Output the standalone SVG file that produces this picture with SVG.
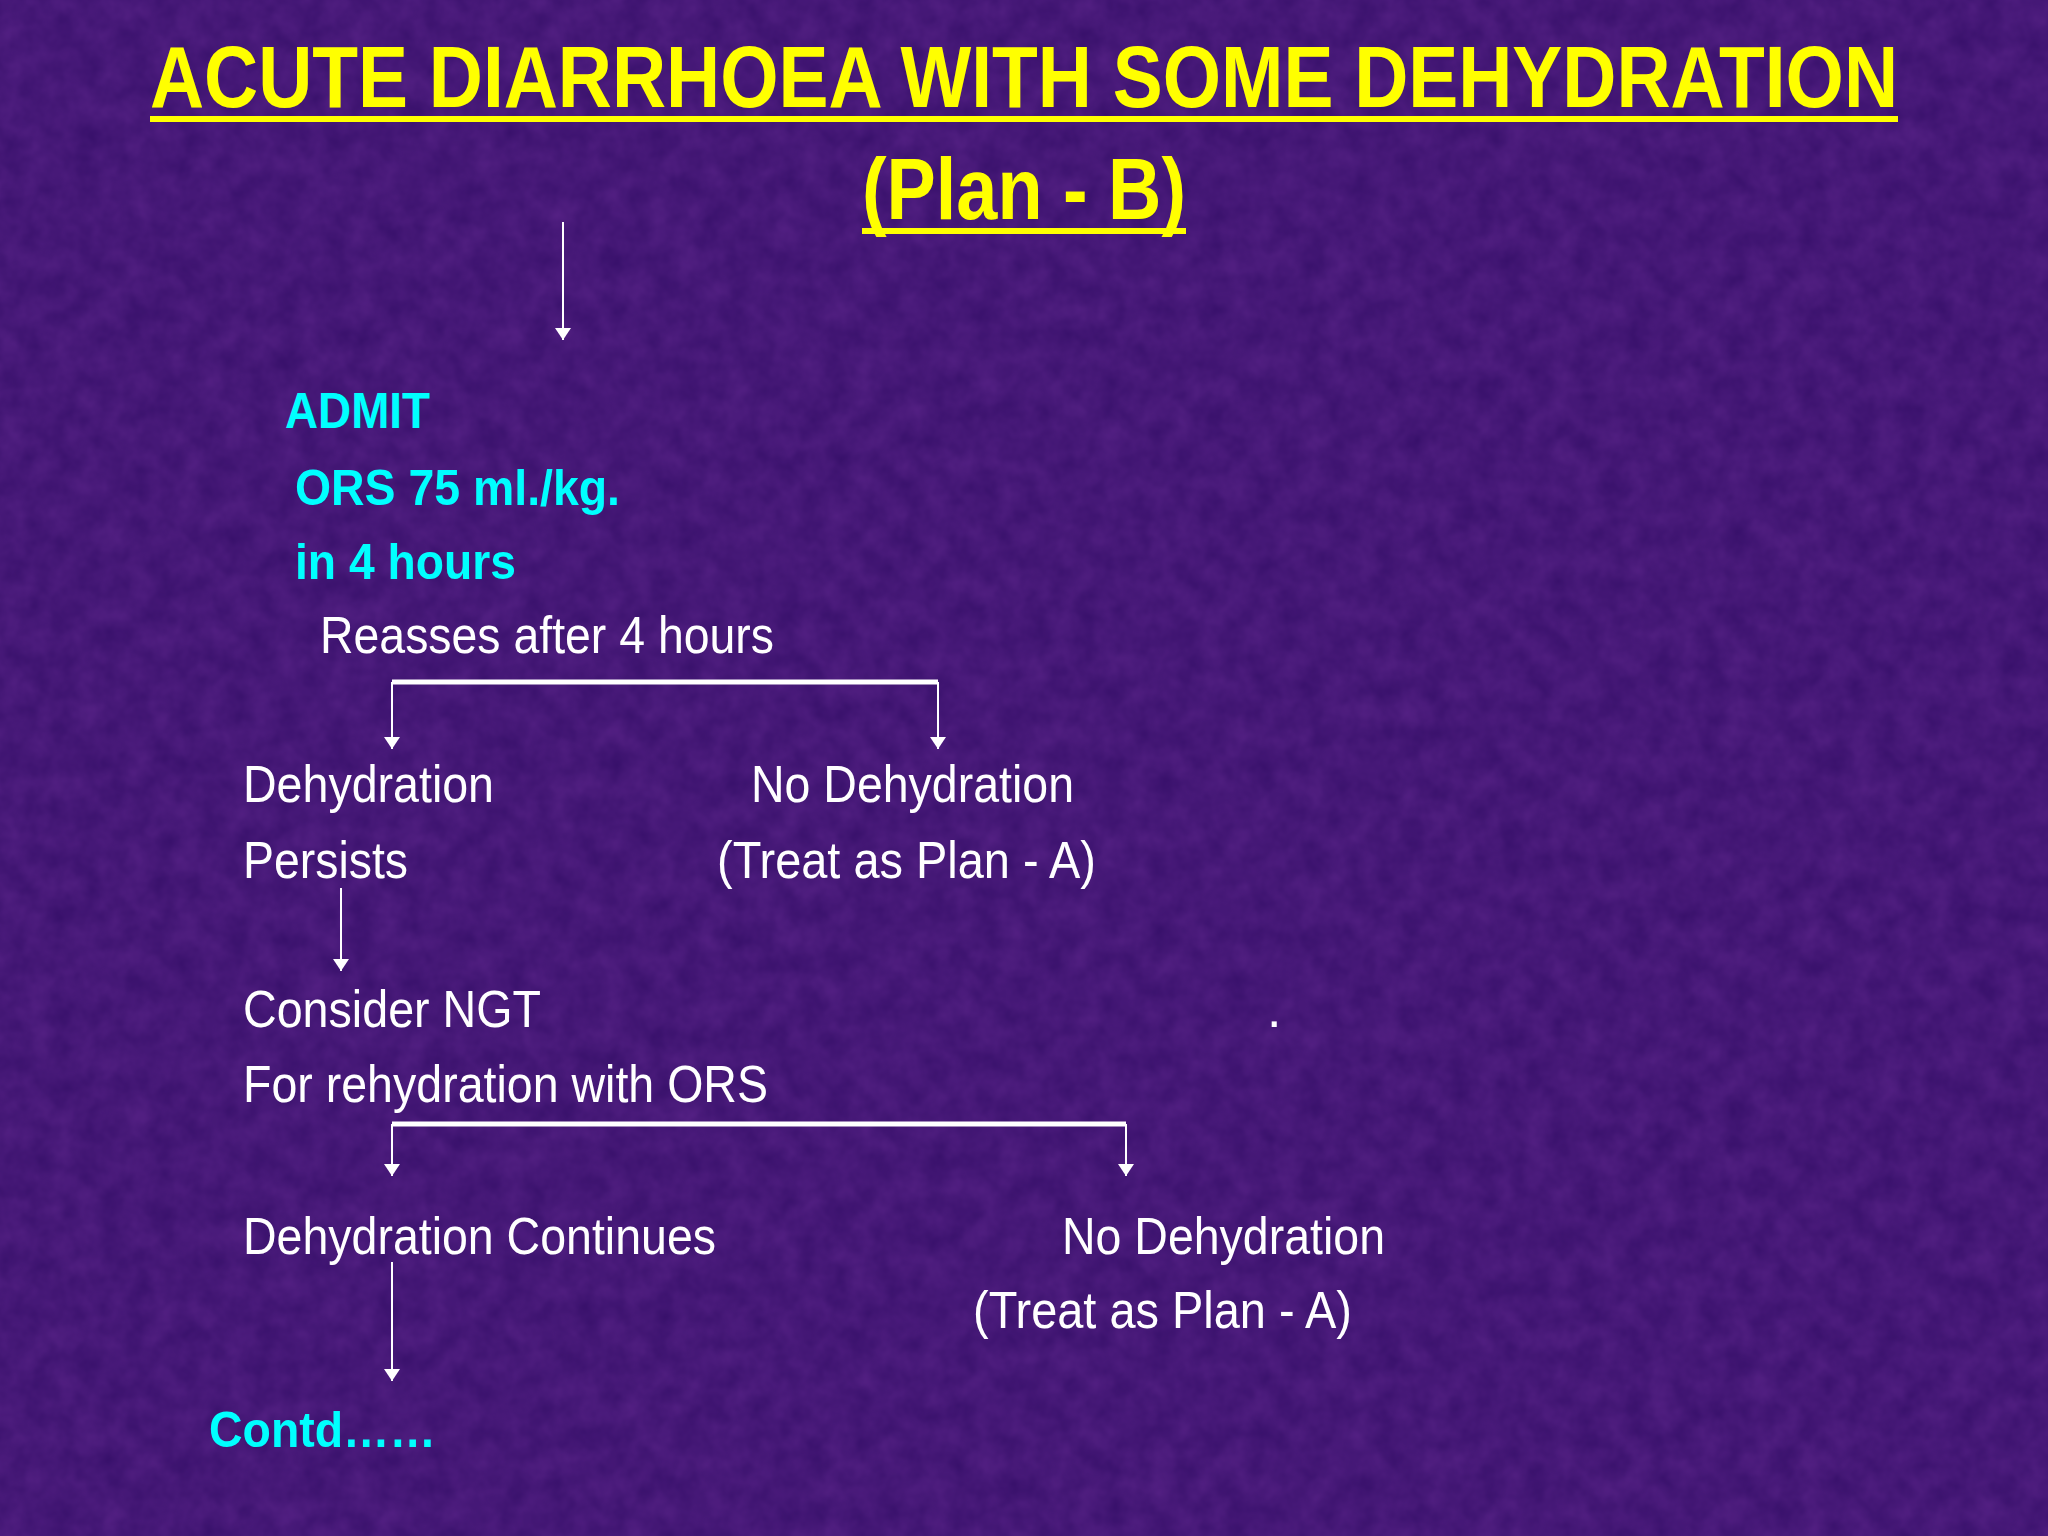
<svg xmlns="http://www.w3.org/2000/svg" width="2048" height="1536" viewBox="0 0 2048 1536">
<defs>
<style>
.t{font-family:"Liberation Sans Narrow","Liberation Sans",Arial,sans-serif;}
.title{fill:#ffff00;font-weight:bold;font-size:88px;}
.c{fill:#00ffff;font-weight:bold;font-size:50px;}
.w{fill:#ffffff;font-size:52px;}
.ln{stroke:#ffffff;fill:none;}
</style>
<marker id="a" viewBox="0 0 12 16" refX="12" refY="8" markerWidth="12" markerHeight="16" markerUnits="userSpaceOnUse" orient="auto"><path d="M0,0 L12,8 L0,16 Z" fill="#ffffff"/></marker>
<filter id="n"><feTurbulence type="fractalNoise" baseFrequency="0.04" numOctaves="3" seed="3"/><feColorMatrix values="0 0 0 0 0.25  0 0 0 0 0.05  0 0 0 0 0.45  0 0 0 0.6 0"/></filter>
</defs>
<rect width="2048" height="1536" fill="#37106a"/>
<rect width="2048" height="1536" filter="url(#n)" opacity="0.6"/>
<g id="title" class="t">
<text class="title" x="150" y="107" textLength="1748" lengthAdjust="spacingAndGlyphs">ACUTE DIARRHOEA WITH SOME DEHYDRATION</text>
<rect x="150" y="116" width="1748" height="6" fill="#ffff00"/>
<text class="title" x="862" y="219" textLength="324" lengthAdjust="spacingAndGlyphs">(Plan - B)</text>
<rect x="862" y="228" width="324" height="6" fill="#ffff00"/>
</g>
<g id="connectors" class="ln">
<line x1="563" y1="222" x2="563" y2="340" stroke-width="2" marker-end="url(#a)"/>
<path d="M392,682 H938" stroke-width="5"/>
<line x1="392" y1="682" x2="392" y2="749" stroke-width="2" marker-end="url(#a)"/>
<line x1="938" y1="682" x2="938" y2="749" stroke-width="2" marker-end="url(#a)"/>
<line x1="341" y1="888" x2="341" y2="971" stroke-width="2" marker-end="url(#a)"/>
<path d="M392,1124 H1126" stroke-width="5"/>
<line x1="392" y1="1124" x2="392" y2="1176" stroke-width="2" marker-end="url(#a)"/>
<line x1="1126" y1="1124" x2="1126" y2="1176" stroke-width="2" marker-end="url(#a)"/>
<line x1="392" y1="1262" x2="392" y2="1381" stroke-width="2" marker-end="url(#a)"/>
</g>
<g id="admit" class="t">
<text class="c" x="285" y="428" textLength="145" lengthAdjust="spacingAndGlyphs">ADMIT</text>
<text class="c" x="295" y="505" textLength="325" lengthAdjust="spacingAndGlyphs">ORS 75 ml./kg.</text>
<text class="c" x="295" y="579" textLength="221" lengthAdjust="spacingAndGlyphs">in 4 hours</text>
<text class="w" x="320" y="653" textLength="454" lengthAdjust="spacingAndGlyphs">Reasses after 4 hours</text>
</g>
<g id="persists" class="t">
<text class="w" x="243" y="802" textLength="251" lengthAdjust="spacingAndGlyphs">Dehydration</text>
<text class="w" x="243" y="878" textLength="165" lengthAdjust="spacingAndGlyphs">Persists</text>
</g>
<g id="nodehyd1" class="t">
<text class="w" x="751" y="802" textLength="323" lengthAdjust="spacingAndGlyphs">No Dehydration</text>
<text class="w" x="717" y="878" textLength="379" lengthAdjust="spacingAndGlyphs">(Treat as Plan - A)</text>
</g>
<g id="ngt" class="t">
<text class="w" x="243" y="1027" textLength="298" lengthAdjust="spacingAndGlyphs">Consider NGT</text>
<text class="w" x="243" y="1102" textLength="525" lengthAdjust="spacingAndGlyphs">For rehydration with ORS</text>
<text class="w" x="1267" y="1027">.</text>
</g>
<g id="continues" class="t">
<text class="w" x="243" y="1254" textLength="473" lengthAdjust="spacingAndGlyphs">Dehydration Continues</text>
</g>
<g id="nodehyd2" class="t">
<text class="w" x="1062" y="1254" textLength="323" lengthAdjust="spacingAndGlyphs">No Dehydration</text>
<text class="w" x="973" y="1328" textLength="379" lengthAdjust="spacingAndGlyphs">(Treat as Plan - A)</text>
</g>
<g id="contd" class="t">
<text class="c" x="209" y="1447" textLength="227" lengthAdjust="spacingAndGlyphs">Contd……</text>
</g>
</svg>
